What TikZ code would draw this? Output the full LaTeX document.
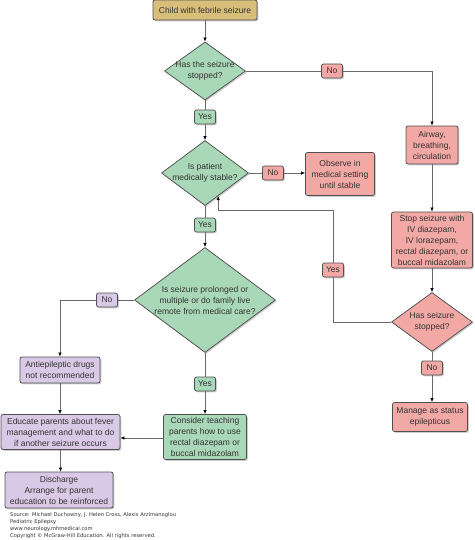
\documentclass[tikz,border=0pt]{standalone}
\usepackage{fontspec}
\setmainfont{Liberation Sans}
\newfontfamily\srcfont{DejaVu Sans}
\usetikzlibrary{shapes.geometric,shadows,calc,arrows.meta}
\definecolor{gfill}{HTML}{A9D8B8}
\definecolor{pfill}{HTML}{F2A9A6}
\definecolor{vfill}{HTML}{D9C9E6}
\definecolor{tfill}{HTML}{D9BE7A}
\definecolor{bord}{HTML}{505050}
\definecolor{txtc}{HTML}{333333}
\definecolor{linec}{HTML}{6A6A6A}
\tikzset{
  base/.style={draw=bord, line width=0.75pt, text=txtc, font=\fontsize{8.5}{11}\selectfont, align=center,
    drop shadow={shadow xshift=1.3pt, shadow yshift=-1.3pt, opacity=0.4}},
  box/.style={base, rectangle, rounded corners=2pt, inner sep=1pt},
  dia/.style={base, diamond, inner sep=0pt},
  lab/.style={box, minimum height=14pt, minimum width=21pt, inner sep=1pt},
  dtext/.style={text=txtc, font=\fontsize{8.5}{11}\selectfont, align=center},
  arr/.style={draw=linec, line width=0.7pt, -{Latex[length=4pt,width=3.5pt,color=black]}},
  ln/.style={draw=linec, line width=0.7pt},
}
\begin{document}
\begin{tikzpicture}[x=1pt,y=-1pt]
\useasboundingbox (0,0) rectangle (474,540);
% nodes
\node[box, fill=tfill, minimum width=104pt, minimum height=20pt] (start) at (205,10) {Child with febrile seizure};
\node[dia, fill=gfill, minimum width=81pt, minimum height=58pt, label={[dtext]center:Has the seizure\\stopped?}] (d1) at (205,71) {};
\node[lab, fill=gfill] (y1) at (205,117) {Yes};
\node[lab, fill=pfill] (n1) at (332,71) {No};
\node[dia, fill=gfill, minimum width=87pt, minimum height=65pt, label={[dtext]center:Is patient\\medically stable?}] (d2) at (205,173) {};
\node[lab, fill=pfill] (n2) at (273,173) {No};
\node[box, fill=pfill, minimum width=69pt, minimum height=43pt] (obs) at (340,174) {Observe in\\medical setting\\until stable};
\node[box, fill=pfill, minimum width=52pt, minimum height=38pt] (air) at (432,145) {Airway,\\breathing,\\circulation};
\node[box, fill=pfill, minimum width=81pt, minimum height=56pt] (stop) at (432,240) {Stop seizure with\\IV diazepam,\\IV lorazepam,\\rectal diazepam, or\\buccal midazolam};
\node[dia, fill=pfill, minimum width=81pt, minimum height=59pt, label={[dtext]center:Has seizure\\stopped?}] (d3) at (432,322) {};
\node[lab, fill=pfill] (n3) at (432,368) {No};
\node[box, fill=pfill, minimum width=75pt, minimum height=29pt] (man) at (430,417) {Manage as status\\epilepticus};
\node[lab, fill=pfill] (y3) at (333,270) {Yes};
\node[lab, fill=gfill] (y2) at (205,225) {Yes};
\node[dia, fill=gfill, minimum width=141pt, minimum height=105pt, label={[dtext]center:Is seizure prolonged or\\multiple or do family live\\remote from medical care?}] (d4) at (205,300) {};
\node[lab, fill=vfill] (n4) at (107,300) {No};
\node[box, fill=vfill, minimum width=80pt, minimum height=26pt] (anti) at (60,370) {Antiepileptic drugs\\not recommended};
\node[lab, fill=gfill] (y4) at (205,384) {Yes};
\node[box, fill=gfill, minimum width=83pt, minimum height=45pt] (cons) at (205,437) {Consider teaching\\parents how to use\\rectal diazepam or\\buccal midazolam};
\node[box, fill=vfill, minimum width=119pt, minimum height=35pt] (edu) at (60.5,432) {Educate parents about fever\\management and what to do\\if another seizure occurs};
\node[box, fill=vfill, minimum width=108pt, minimum height=36pt] (dis) at (59,490) {Discharge\\Arrange for parent\\education to be reinforced};
\node[anchor=north west, inner sep=0pt, align=left, text=txtc, font=\srcfont\fontsize{5.2}{7}\selectfont] (src) at (10,512) {Source: Michael Duchowny, J. Helen Cross, Alexis Arzimanoglou\\Pediatric Epilepsy\\www.neurology.mhmedical.com\\Copyright © McGraw-Hill Education. All rights reserved.};
% coordinates
\coordinate (c2) at ($(d2.south)!0.3!(d2.east)$);
\coordinate (cl) at (c2 |- 0,210);
% connectors
\draw[arr] (start) -- (d1.north);
\draw[ln] (d1.south) -- (y1.north);
\draw[arr] (y1.south) -- (d2.north);
\draw[ln] (d1.east) -- (n1.west);
\draw[arr] (n1.east) -| (air.north);
\draw[ln] (d2.east) -- (n2.west);
\draw[arr] (n2.east) -- (n2.east -| obs.west);
\draw[arr] (air.south) -- (stop.north);
\draw[arr] (stop.south) -- (d3.north);
\draw[ln] (d3.south) -- (n3.north);
\draw[arr] (n3.south) -- (n3.south |- man.north);
\draw[ln] (d3.west) -| (y3.south);
\draw[arr] (y3.north) |- (cl) -- (c2);
\draw[ln] (d2.south) -- (y2.north);
\draw[arr] (y2.south) -- (d4.north);
\draw[ln] (d4.west) -- (n4.east);
\draw[arr] (n4.west) -| (anti.north);
\draw[ln] (d4.south) -- (y4.north);
\draw[arr] (y4.south) -- (cons.north);
\draw[arr] (anti.south) -- (anti.south |- edu.north);
\draw[arr] (cons.west |- 0,438) -- (edu.east |- 0,438);
\draw[arr] (edu.south) -- (edu.south |- dis.north);
\end{tikzpicture}
\end{document}
